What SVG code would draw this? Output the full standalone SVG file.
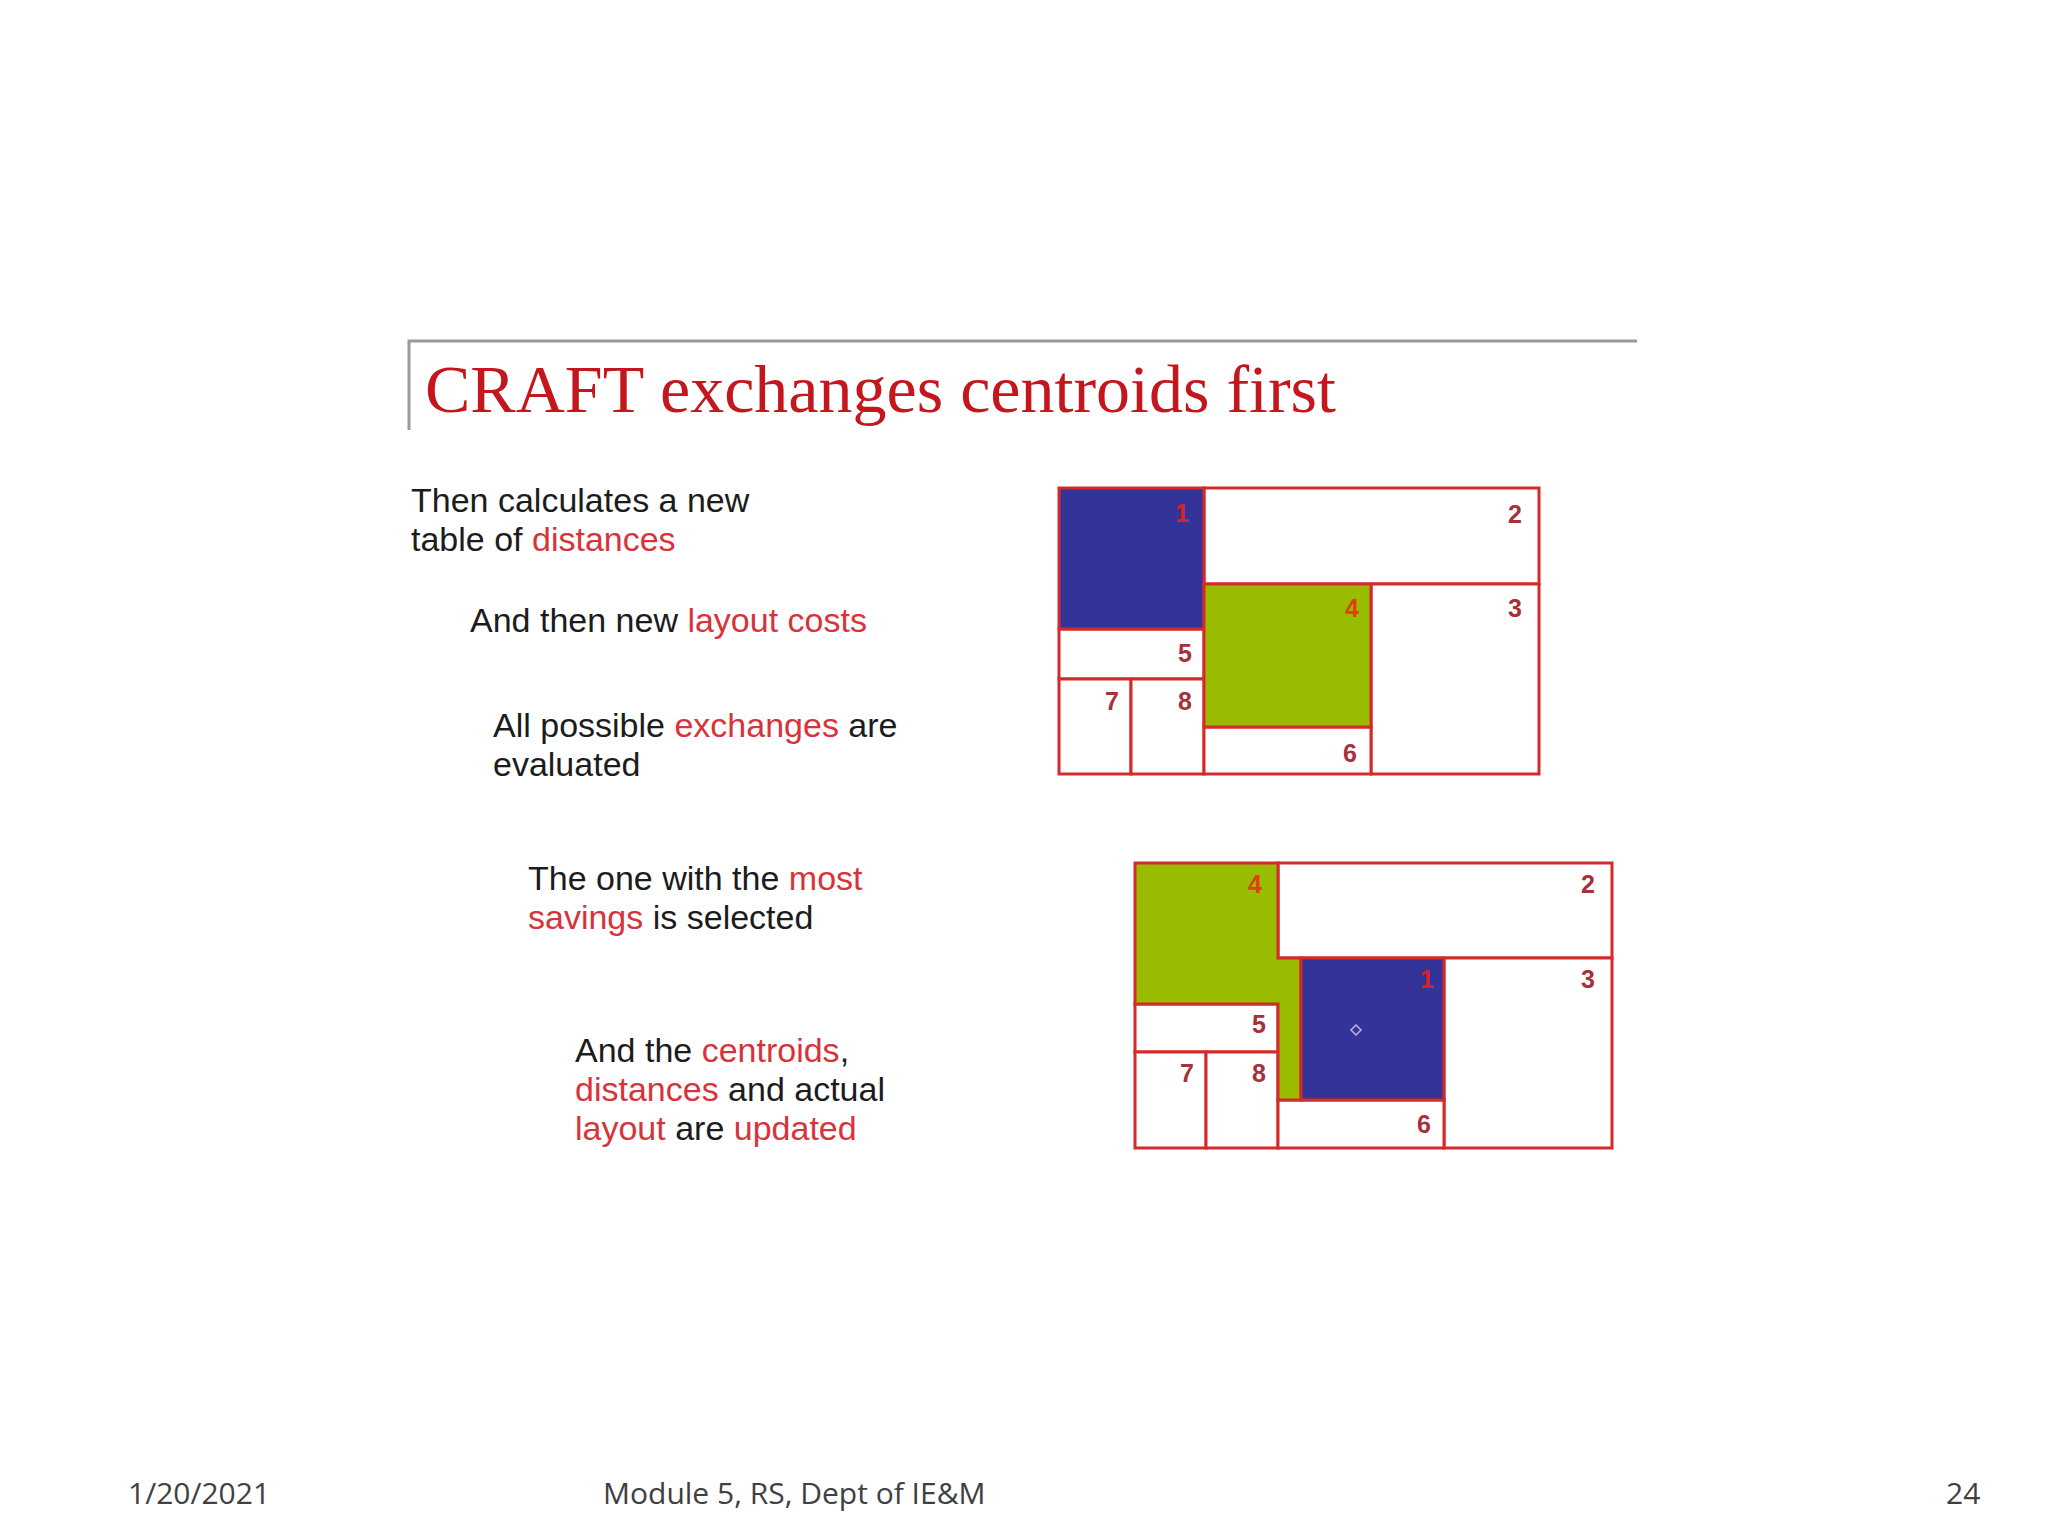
<svg xmlns="http://www.w3.org/2000/svg" width="2048" height="1536" viewBox="0 0 2048 1536">
<style>
.body{font-family:"Liberation Sans",Arial,sans-serif;font-size:34px;fill:#1c1c1c}
.r{fill:#d8333b}
.title{font-family:"Liberation Serif","Times New Roman",serif;font-size:68px;fill:#c3171d}
.foot{font-family:"Open Sans","Liberation Sans",sans-serif;font-size:30px;fill:#404040}
.blk{stroke:#d42a2a;stroke-width:3;fill:#ffffff}
.blue{fill:#333399}
.green{fill:#99bb00}
.num{font-family:"Liberation Sans",Arial,sans-serif;font-size:25px;font-weight:bold;fill:#a8303a;text-anchor:middle}
.n1{fill:#d8222a}
.n4{fill:#e0400e}
</style>
<rect width="2048" height="1536" fill="#ffffff"/>

<g id="title">
<path d="M409 430 V341 H1637" fill="none" stroke="#9a9a9a" stroke-width="3"/>
<text class="title" x="425" y="412">CRAFT exchanges centroids first</text>
</g>

<g id="text-1">
<text class="body" x="411" y="512">Then calculates a new</text>
<text class="body" x="411" y="551">table of <tspan class="r">distances</tspan></text>
</g>
<g id="text-2">
<text class="body" x="470" y="632">And then new <tspan class="r">layout costs</tspan></text>
</g>
<g id="text-3">
<text class="body" x="493" y="737">All possible <tspan class="r">exchanges</tspan> are</text>
<text class="body" x="493" y="776">evaluated</text>
</g>
<g id="text-4">
<text class="body" x="528" y="890">The one with the <tspan class="r">most</tspan></text>
<text class="body" x="528" y="929"><tspan class="r">savings</tspan> is selected</text>
</g>
<g id="text-5">
<text class="body" x="575" y="1062">And the <tspan class="r">centroids</tspan>,</text>
<text class="body" x="575" y="1101"><tspan class="r">distances</tspan> and actual</text>
<text class="body" x="575" y="1140"><tspan class="r">layout</tspan> are <tspan class="r">updated</tspan></text>
</g>

<g id="layout-before">
<rect class="blk" x="1204" y="488" width="335" height="96"/>
<rect class="blk" x="1371" y="584" width="168" height="190"/>
<rect class="blk" x="1059" y="629" width="145" height="50"/>
<rect class="blk" x="1059" y="679" width="72" height="95"/>
<rect class="blk" x="1131" y="679" width="73" height="95"/>
<rect class="blk" x="1204" y="727" width="167" height="47"/>
<rect class="blk blue" x="1059" y="488" width="145" height="141"/>
<rect class="blk green" x="1204" y="584" width="167" height="143"/>
<text class="num n1" x="1182" y="522">1</text>
<text class="num" x="1515" y="523">2</text>
<text class="num" x="1515" y="617">3</text>
<text class="num n4" x="1352" y="617">4</text>
<text class="num" x="1185" y="662">5</text>
<text class="num" x="1350" y="762">6</text>
<text class="num" x="1112" y="710">7</text>
<text class="num" x="1185" y="710">8</text>
</g>

<g id="layout-after">
<rect class="blk" x="1278" y="863" width="334" height="95"/>
<rect class="blk" x="1444" y="958" width="168" height="190"/>
<rect class="blk" x="1135" y="1004" width="143" height="48"/>
<rect class="blk" x="1135" y="1052" width="71" height="96"/>
<rect class="blk" x="1206" y="1052" width="72" height="96"/>
<rect class="blk" x="1278" y="1100" width="166" height="48"/>
<polygon class="blk green" points="1135,863 1278,863 1278,958 1301,958 1301,1100 1278,1100 1278,1004 1135,1004"/>
<rect class="blk blue" x="1301" y="958" width="143" height="142"/>
<path d="M1356 1025 L1361 1030 L1356 1035 L1351 1030 Z" fill="none" stroke="#c8b0e0" stroke-width="1.5"/>
<text class="num n4" x="1255" y="893">4</text>
<text class="num" x="1588" y="893">2</text>
<text class="num n1" x="1427" y="988">1</text>
<text class="num" x="1588" y="988">3</text>
<text class="num" x="1259" y="1033">5</text>
<text class="num" x="1187" y="1082">7</text>
<text class="num" x="1259" y="1082">8</text>
<text class="num" x="1424" y="1133">6</text>
</g>

<g id="footer">
<text class="foot" x="128" y="1504">1/20/2021</text>
<text class="foot" x="603" y="1504">Module 5, RS, Dept of IE&amp;M</text>
<text class="foot" x="1946" y="1504">24</text>
</g>
</svg>
